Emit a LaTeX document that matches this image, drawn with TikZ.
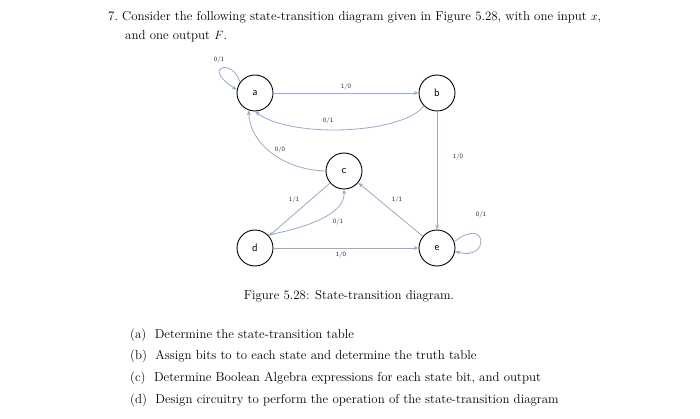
\documentclass[tikz,border=0pt]{standalone}
\usetikzlibrary{arrows.meta}
\begin{document}
\begin{tikzpicture}[x=1pt,y=-1pt,
  st/.style={circle,draw=black,line width=0.9pt,minimum size=36pt,inner sep=0pt,font=\fontsize{11}{12}\sffamily},
  tr/.style={draw={rgb,255:red,150;green,172;blue,200},line width=0.8pt,-{Stealth[length=5pt,width=4pt]}},
  lb/.style={font=\fontsize{6.5}{7}\sffamily,text=black!80,inner sep=0pt},
  tx/.style={anchor=west,inner sep=0pt,font=\fontsize{12.9}{15}\selectfont}]
\useasboundingbox (0,0) rectangle (700,419);
\fill[white] (0,0) rectangle (700,419);
\node[tx] (t1) at (108,17) {7.\ Consider the following state-transition diagram given in Figure 5.28, with one input $x$,};
\node[tx] (t2) at (125,36) {and one output $F$.};
\node[st] (a) at (255,93) {a};
\node[st] (b) at (437,93) {b};
\node[st] (c) at (344,171) {c};
\node[st] (d) at (255,248) {d};
\node[st] (e) at (437,248) {e};
\draw[tr] (a.145) .. controls (234,58) and (200,66) .. (a.170);
\node[lb] (l1) at (219,60) {0/1};
\draw[tr] (a) -- node[lb,above=2pt]{1/0} (b);
\draw[tr] (b.south west) .. controls (400,135) and (290,138) .. (a.south);
\node[lb] (l2) at (328,121) {0/1};
\draw[tr] (c.west) .. controls (285,170) and (250,145) .. (a.250);
\node[lb] (l3) at (280,150) {0/0};
\draw[tr] (b) -- (e);
\node[lb] (l4) at (458,157) {1/0};
\draw[tr] (c) -- (d);
\node[lb] (l5) at (294,200) {1/1};
\draw[tr] (d.north east) .. controls (320,225) and (345,210) .. (c.south);
\node[lb] (l6) at (338,222) {0/1};
\draw[tr] (e) -- (c);
\node[lb] (l7) at (397,200) {1/1};
\draw[tr] (d) -- (e);
\node[lb] (l8) at (341,255) {1/0};
\draw[tr] (e.20) .. controls (488,215) and (490,262) .. (e.-10);
\node[lb] (l9) at (481,215) {0/1};
\node[tx,anchor=center] (cap) at (349,296) {Figure 5.28: State-transition diagram.};
\node[tx] (i1) at (130,335) {(a)\ \ Determine the state-transition table};
\node[tx] (i2) at (130,356) {(b)\ \ Assign bits to to each state and determine the truth table};
\node[tx] (i3) at (130,378) {(c)\ \ Determine Boolean Algebra expressions for each state bit, and output};
\node[tx] (i4) at (130,400) {(d)\ \ Design circuitry to perform the operation of the state-transition diagram};
\end{tikzpicture}
\end{document}
